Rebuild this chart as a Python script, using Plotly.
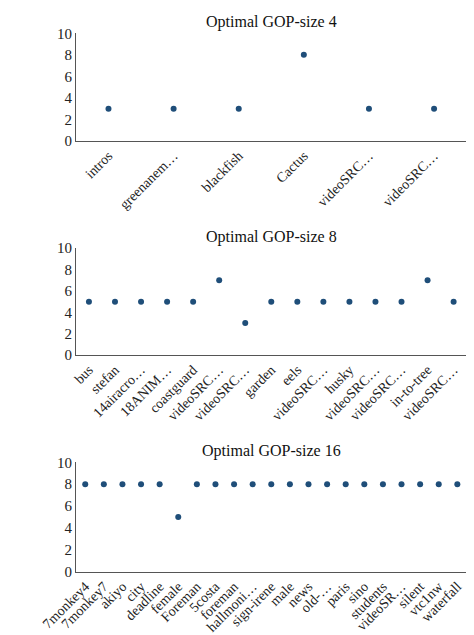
import plotly.graph_objects as go

# GOP-size 4
names4 = ["intros", "greenanem…", "blackfish", "Cactus", "videoSRC…", "videoSRC…"]
vals4 = [3, 3, 3, 8, 3, 3]

# GOP-size 8
names8 = ["bus", "stefan", "14airacro…", "18ANIM…", "coastguard", "videoSRC…", "videoSRC…",
          "garden", "eels", "videoSRC…", "husky", "videoSRC…", "videoSRC…", "in-to-tree", "videoSRC…"]
vals8 = [5, 5, 5, 5, 5, 7, 3, 5, 5, 5, 5, 5, 5, 7, 5]

# GOP-size 16
names16 = ["7monkey4", "7monkey7", "akiyo", "city", "deadline", "female", "Foreman", "5costa",
           "foreman", "hallmoni…", "sign-irene", "male", "news", "old-…", "paris", "sino",
           "students", "videoSR…", "silent", "vtc1nw", "waterfall"]
vals16 = [8, 8, 8, 8, 8, 5, 8, 8, 8, 8, 8, 8, 8, 8, 8, 8, 8, 8, 8, 8, 8]

panels = [
    ("Optimal GOP-size 4", names4, vals4, [0.798, 0.972]),
    ("Optimal GOP-size 8", names8, vals8, [0.452, 0.625]),
    ("Optimal GOP-size 16", names16, vals16, [0.102, 0.279]),
]

font = dict(family="Liberation Serif", size=14, color="#222")
fig = go.Figure()
for i, (title, names, vals, dom) in enumerate(panels, start=1):
    xs = list(range(len(names)))
    fig.add_trace(go.Scatter(x=xs, y=vals, mode="markers", xaxis=f"x{i}", yaxis=f"y{i}",
                             marker=dict(color="#1f4e79", size=6), showlegend=False))
    fig.layout[f"xaxis{i}"] = dict(domain=[0.075, 0.965], anchor=f"y{i}", range=[-0.5, len(names) - 0.5],
                                    tickvals=xs, ticktext=names, tickangle=-45, showline=True,
                                    linecolor="#555", showgrid=False, zeroline=False, tickfont=font)
    fig.layout[f"yaxis{i}"] = dict(domain=dom, anchor=f"x{i}", range=[0, 10], dtick=2, showline=True,
                                    linecolor="#555", showgrid=False, zeroline=False,
                                    tickfont=dict(family="Liberation Serif", size=15, color="#222"))
    fig.add_annotation(text=title, x=0.52, y=dom[1], xref="paper", yref="paper", yanchor="bottom",
                       showarrow=False, font=dict(family="Liberation Serif", size=16, color="#111"))

fig.update_layout(width=474, height=635, margin=dict(l=0, r=0, t=0, b=0),
                  plot_bgcolor="white", paper_bgcolor="white")
fig.write_html("out.html")
